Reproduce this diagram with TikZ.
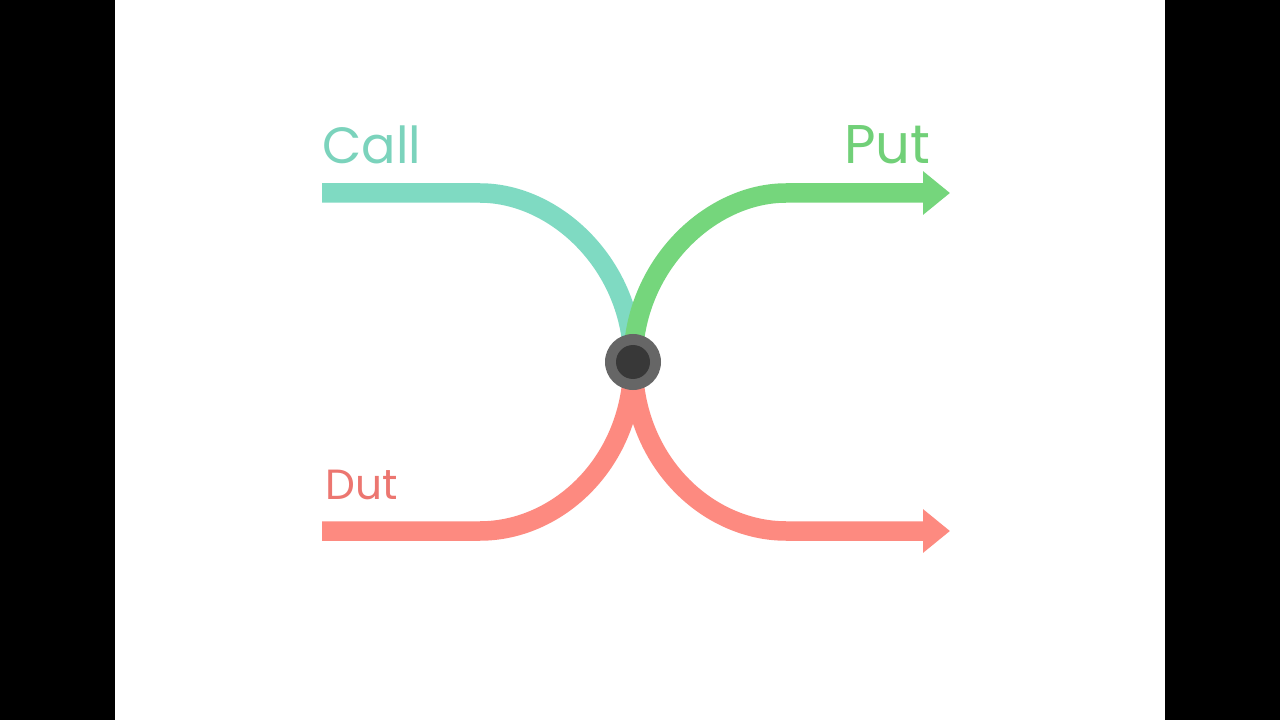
\documentclass[tikz,border=0pt]{standalone}
\usepackage{fontspec}
\setmainfont{Poppins}
\usetikzlibrary{arrows.meta}
\definecolor{callcol}{HTML}{7FDAC2}
\definecolor{putcol}{HTML}{75D67C}
\definecolor{outcol}{HTML}{FD8A80}
\definecolor{dutcol}{HTML}{EC7670}
\begin{document}
\begin{tikzpicture}[x=0.2mm, y=-0.2mm, line join=round,
	leg/.style={line width=3.9mm},
	tip/.style={-{Triangle[length=5.4mm,width=8.4mm]}},
	label/.style={inner sep=0pt, anchor=base west, font=\fontsize{29}{29}\selectfont}]
	\def \xmin{115};
	\def \xmax{1165};
	\useasboundingbox (0,0) rectangle (1280,720);
	\fill[black] (0,0) rectangle (1280,720);
	\fill[white] (\xmin,0) rectangle (\xmax,720);
	\node[circle, minimum size=11.2mm, inner sep=0pt] (hub) at (633,362) {};
	\coordinate (callstart) at (322,193);
	\coordinate (callend) at (480,193);
	\coordinate (putstart) at (786,193);
	\coordinate (putend) at (950,193);
	\coordinate (outstart) at (322,531);
	\coordinate (outleft) at (480,531);
	\coordinate (outright) at (786,531);
	\coordinate (outend) at (950,531);
	\draw[leg, callcol] (callstart) -- (callend) .. controls (556,193) and (633,266) .. (hub.center);
	\draw[leg, outcol] (outstart) -- (outleft) .. controls (558,531) and (633,462) .. (hub.center);
	\draw[leg, tip, outcol] (hub.center) .. controls (633,462) and (708,531) .. (outright) -- (outend);
	\draw[leg, tip, putcol] (hub.center) .. controls (633,266) and (710,193) .. (putstart) -- (putend);
	\fill[black!60] (hub.center) circle (5.6mm);
	\fill[black!78] (hub.center) circle (3.4mm);
	\node[label, callcol!97!black] (call) at (322,164) {Call};
	\node[label, putcol!97!black, anchor=base east, font=\fontsize{31}{31}\selectfont] (put) at (931,164) {Put};
	\node[label, dutcol, font=\fontsize{24}{24}\selectfont] (out) at (325,499) {Dut};
\end{tikzpicture}
\end{document}
